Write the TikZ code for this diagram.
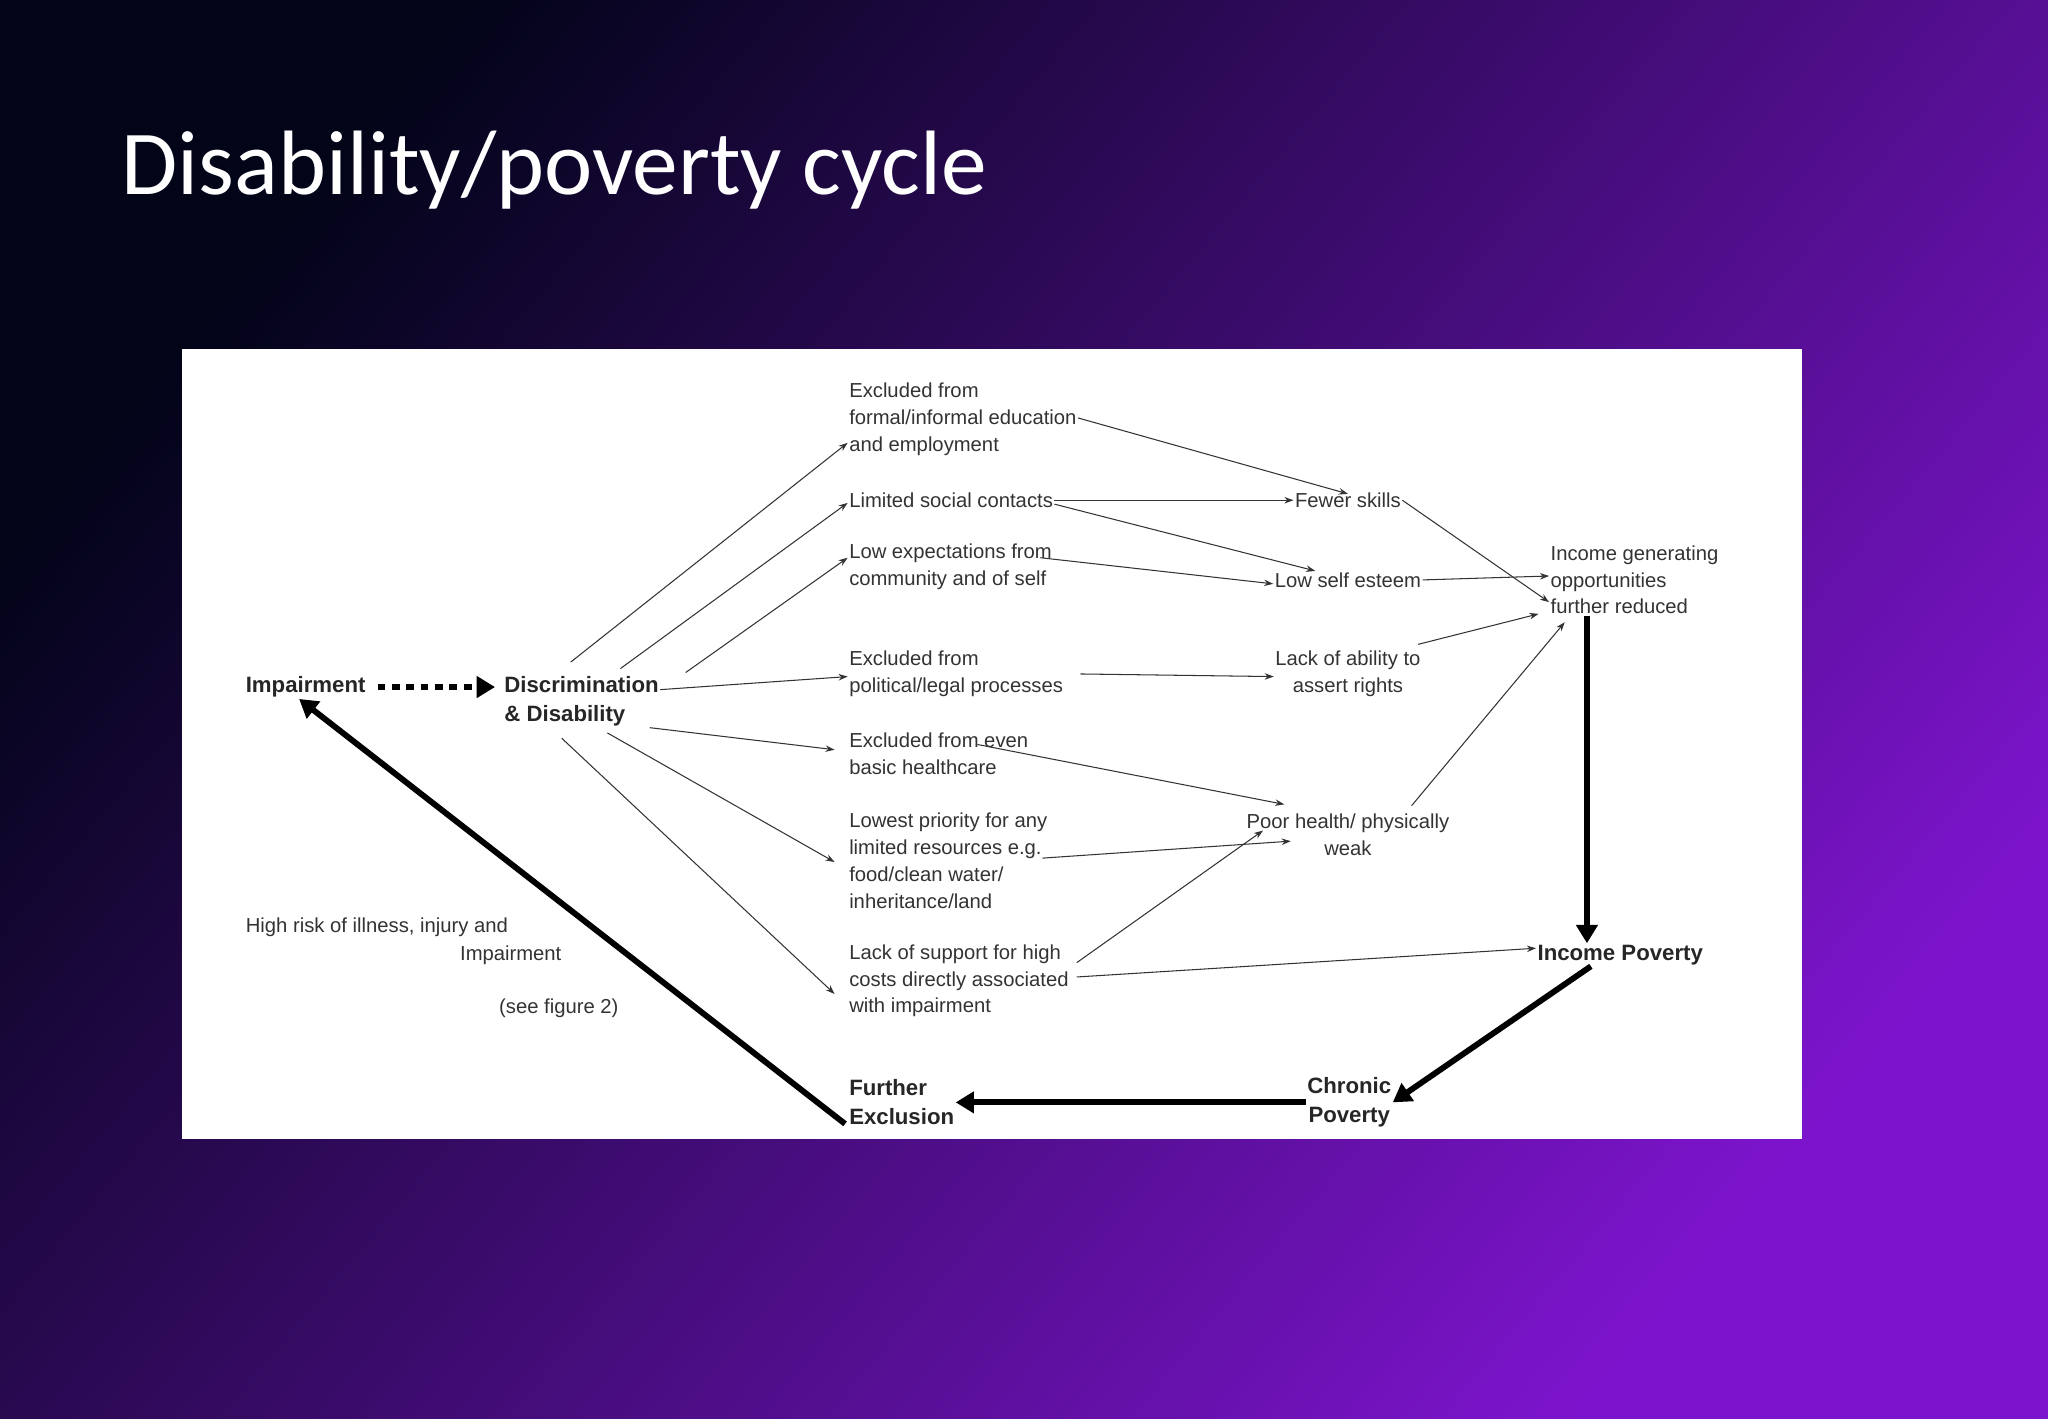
\documentclass[tikz,border=0pt]{standalone}
\usepackage{fontspec}
\setmainfont{Liberation Sans}
\newfontfamily\titlefont{Carlito}
\usetikzlibrary{arrows.meta}
\definecolor{bgul}{RGB}{2,4,24}
\definecolor{bgmid}{RGB}{26,30,180}
\definecolor{bglr}{RGB}{125,20,205}
\begin{document}
\begin{tikzpicture}[x=1pt,y=-1pt,
  lab/.style={font=\fontsize{15.5}{20.5}\selectfont,text=black!80,inner sep=1pt,align=left},
  labc/.style={lab,align=center},
  big/.style={font=\fontsize{17}{22}\selectfont\bfseries,text=black!85,inner sep=1pt,align=left},
  thin/.style={draw=black!80,line width=0.8pt,-{Stealth[length=7pt,width=5pt]}},
  thick/.style={draw=black,line width=4.5pt,-{Triangle[length=14pt,width=16pt]}}]
\useasboundingbox (0,0) rectangle (1568,1086);
\begin{scope}[yscale=-1]
\shade[top color=bgul,middle color=bgmid,bottom color=bglr,shading angle=50] (0,0) rectangle (1568,-1086);
\end{scope}
\node[anchor=west,text=white,font=\fontsize{70}{80}\selectfont\titlefont,inner sep=0] (title) at (93,130) {Disability/poverty cycle};
\fill[white] (139,267) rectangle (1380,872);
\node[big,anchor=west] (I) at (187,526) {Impairment};
\node[big,anchor=west] (D) at (385,537) {Discrimination\\\& Disability};
\node[lab,anchor=west] (E1) at (649,321) {Excluded from\\formal/informal education\\and employment};
\node[lab,anchor=west] (E2) at (649,383) {Limited social contacts};
\node[lab,anchor=west] (E3) at (649,434) {Low expectations from\\community and of self};
\node[lab,anchor=west] (E4) at (649,516) {Excluded from\\political/legal processes};
\node[lab,anchor=west] (E5) at (649,577) {Excluded from even\\basic healthcare};
\node[lab,anchor=west] (E6) at (649,659) {Lowest priority for any\\limited resources e.g.\\food/clean water/\\inheritance/land};
\node[lab,anchor=west] (E7) at (649,751) {Lack of support for high\\costs directly associated\\with impairment};
\node[labc] (F) at (1032,383) {Fewer skills};
\node[labc] (L) at (1032,444) {Low self esteem};
\node[labc] (A) at (1032,516) {Lack of ability to\\assert rights};
\node[labc] (P) at (1032,639) {Poor health/ physically\\weak};
\node[lab,anchor=west] (G) at (1186,444) {Income generating\\opportunities\\further reduced};
\node[big,anchor=west] (IP) at (1176,731) {Income Poverty};
\node[big,align=center] (C) at (1033,844) {Chronic\\Poverty};
\node[big,anchor=west] (FE) at (649,844) {Further\\Exclusion};
\node[lab,anchor=west] (H1) at (187,710) {High risk of illness, injury and};
\node[lab,anchor=east] (H2) at (431,731) {Impairment};
\node[lab,anchor=west] (H3) at (381,772) {(see figure 2)};
% thin arrows
\draw[thin] ([shift={(52,-10)}]D.north west) -- ([yshift=-18pt]E1.west);
\draw[thin] ([shift={(90,-5)}]D.north west) -- ([yshift=-2pt]E2.west);
\draw[thin] ([shift={(140,-2)}]D.north west) -- ([yshift=7pt]E3.west);
\draw[thin] ([shift={(0,-9)}]D.east) -- ([yshift=-2pt]E4.west);
\draw[thin] ([shift={(-8,0)}]D.south east) -- ([shift={(-10,-3)}]E5.west);
\draw[thin] ([shift={(80,4)}]D.south west) -- ([shift={(-10,1)}]E6.west);
\draw[thin] ([shift={(45,8)}]D.south west) -- ([shift={(-10,10)}]E7.west);
\draw[thin] ([yshift=1pt]E1.east) -- ([yshift=-2pt]F.north);
\draw[thin] (E2.east) -- (F.west);
\draw[thin] ([yshift=-3pt]E2.east) -- ([xshift=-25pt]L.north);
\draw[thin] ([shift={(-10,-7)}]E3.east) -- ([yshift=-3pt]L.west);
\draw[thin] ([xshift=12pt]E4.east) -- ([yshift=-2pt]A.west);
\draw[thin] ([shift={(-40,-7)}]E5.east) -- ([shift={(30,-6)}]P.north west);
\draw[thin] ([shift={(-5,-2)}]E6.east) -- ([shift={(35,5)}]P.west);
\draw[thin] ([shift={(5,-14)}]E7.east) -- ([shift={(-65,14)}]P.north);
\draw[thin] ([shift={(5,-3)}]E7.east) -- ([yshift=5pt]IP.west);
\draw[thin] (F.east) -- ([yshift=-17pt]G.west);
\draw[thin] (L.east) -- ([yshift=3pt]G.west);
\draw[thin] ([shift={(-3,-4)}]A.north east) -- ([shift={(-8,26)}]G.west);
\draw[thin] ([shift={(-30,-5)}]P.north east) -- ([shift={(12,5)}]G.south west);
% thick arrows
\draw[thick] ([xshift=29pt]G.south west) -- ([xshift=39pt]IP.north west);
\draw[thick] ([xshift=42pt]IP.south west) -- (C.east);
\draw[thick] (C.west) -- (FE.east);
\draw[thick] ([shift={(-2,-2)}]FE.south west) -- ([xshift=42pt]I.south west);
\draw[thick,line cap=butt,dash pattern=on 6pt off 5pt] ([xshift=8pt]I.east) -- ([xshift=-6pt]D.west|-I.east);
\end{tikzpicture}
\end{document}
